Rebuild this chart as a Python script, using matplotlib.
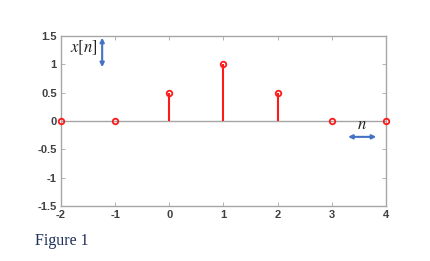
import numpy as np
import matplotlib
matplotlib.use('Agg')
import matplotlib.pyplot as plt

# data
n_vals = [-2, -1, 0, 1, 2, 3, 4]
x_vals = [0, 0, 0.5, 1, 0.5, 0, 0]
xtick_vals = [-2, -1, 0, 1, 2, 3, 4]
ytick_vals = [-1.5, -1, -0.5, 0, 0.5, 1, 1.5]
ytick_labels = ['-1.5', '-1', '-0.5', '0', '0.5', '1', '1.5']

stem_color = '#ff1a1a'
axis_grey = '#a6a6a6'
label_grey = '#404040'
arrow_blue = '#4472c4'

plt.rcParams['font.family'] = 'Liberation Sans'
plt.rcParams['mathtext.fontset'] = 'stix'

fig = plt.figure(figsize=(4.31, 2.61), dpi=100)
ax = fig.add_axes([61/431, 1 - 206/261, 325/431, 170/261])

# baseline
ax.axhline(0, color=axis_grey, linewidth=1.0, zorder=1)
markerline, stemlines, baseline = ax.stem(n_vals, x_vals, basefmt=' ')
plt.setp(stemlines, color=stem_color, linewidth=1.5)
plt.setp(markerline, marker='o', markersize=4, markerfacecolor='none',
         markeredgecolor=stem_color, markeredgewidth=1.3, clip_on=False, zorder=3)

ax.set_xlim(-2, 4)
ax.set_ylim(-1.5, 1.5)
ax.set_xticks(xtick_vals)
ax.set_xticklabels([str(v) for v in xtick_vals])
ax.set_yticks(ytick_vals)
ax.set_yticklabels(ytick_labels)

for s in ax.spines.values():
    s.set_color(axis_grey)
    s.set_linewidth(1.0)

ax.tick_params(axis='both', which='major', direction='in', length=3, width=0.6,
               color=axis_grey, labelcolor=label_grey, labelsize=8,
               bottom=True, top=True, left=True, right=True, pad=3)
for lab in ax.get_xticklabels() + ax.get_yticklabels():
    lab.set_fontweight('bold')

# annotations
ax.text(-1.83, 1.29, r'$x[n]$', fontsize=12, color='#222222',
        ha='left', va='center')
ax.text(3.56, -0.2, r'$n$', fontsize=12, color='#222222',
        ha='center', va='bottom')
ax.annotate('', xy=(-1.24, 1.47), xytext=(-1.24, 0.95),
            arrowprops=dict(arrowstyle='<|-|>', color=arrow_blue, lw=1.5,
                            mutation_scale=6, shrinkA=0, shrinkB=0))
ax.annotate('', xy=(3.30, -0.28), xytext=(3.82, -0.28),
            arrowprops=dict(arrowstyle='<|-|>', color=arrow_blue, lw=1.5,
                            mutation_scale=6, shrinkA=0, shrinkB=0))

fig.text(35/431, 1 - 241/261, 'Figure 1', family='Liberation Serif', fontsize=11.5,
         color='#1f2f5a', ha='left', va='center')

fig.savefig('out.png', dpi=100)
